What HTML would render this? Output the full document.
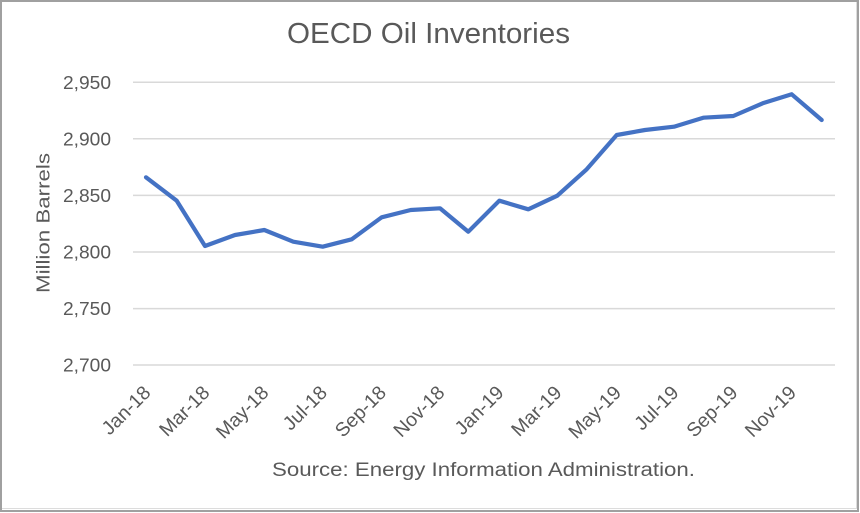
<!DOCTYPE html>
<html>
<head>
<meta charset="utf-8">
<style>
  html, body { margin: 0; padding: 0; background: #ffffff; }
  body { width: 860px; height: 513px; overflow: hidden; }
  svg { display: block; }
  text { font-family: "Liberation Sans", sans-serif; fill: #595959; }
</style>
</head>
<body>
<svg width="860" height="513" viewBox="0 0 860 513" xmlns="http://www.w3.org/2000/svg">
  <rect x="0" y="0" width="860" height="513" fill="#ffffff"/>
  <!-- outer border -->
  <rect x="1" y="1" width="857" height="510" fill="none" stroke="#a0a0a0" stroke-width="2"/>
  <line x1="856.5" y1="2" x2="856.5" y2="509" stroke="#dcdcdc" stroke-width="1"/>
  <line x1="2" y1="508.5" x2="857" y2="508.5" stroke="#dcdcdc" stroke-width="1"/>

  <!-- title -->
  <text x="428.5" y="43" font-size="29" text-anchor="middle" textLength="283" lengthAdjust="spacingAndGlyphs">OECD Oil Inventories</text>

  <!-- gridlines -->
  <g stroke="#d9d9d9" stroke-width="1.5">
    <line x1="133" y1="82.3" x2="835" y2="82.3"/>
    <line x1="133" y1="138.8" x2="835" y2="138.8"/>
    <line x1="133" y1="195.4" x2="835" y2="195.4"/>
    <line x1="133" y1="252" x2="835" y2="252"/>
    <line x1="133" y1="308.6" x2="835" y2="308.6"/>
    <line x1="133" y1="365" x2="835" y2="365"/>
  </g>

  <!-- y tick labels -->
  <g font-size="18" text-anchor="end">
    <text x="111" y="88.8" textLength="48" lengthAdjust="spacingAndGlyphs">2,950</text>
    <text x="111" y="145.3" textLength="48" lengthAdjust="spacingAndGlyphs">2,900</text>
    <text x="111" y="201.9" textLength="48" lengthAdjust="spacingAndGlyphs">2,850</text>
    <text x="111" y="258.5" textLength="48" lengthAdjust="spacingAndGlyphs">2,800</text>
    <text x="111" y="315.1" textLength="48" lengthAdjust="spacingAndGlyphs">2,750</text>
    <text x="111" y="371.5" textLength="48" lengthAdjust="spacingAndGlyphs">2,700</text>
  </g>

  <!-- y axis title -->
  <text x="0" y="0" font-size="18" text-anchor="middle" dy="0.35em" transform="translate(43,223) rotate(-90)" textLength="140" lengthAdjust="spacingAndGlyphs">Million Barrels</text>

  <!-- x tick labels -->
  <g font-size="19.5" text-anchor="end">
    <text x="0" y="0" dy="0.35em" transform="translate(147,389) rotate(-45)">Jan-18</text>
    <text x="0" y="0" dy="0.35em" transform="translate(206,389) rotate(-45)">Mar-18</text>
    <text x="0" y="0" dy="0.35em" transform="translate(265,389) rotate(-45)">May-18</text>
    <text x="0" y="0" dy="0.35em" transform="translate(323.5,389) rotate(-45)">Jul-18</text>
    <text x="0" y="0" dy="0.35em" transform="translate(382.5,389) rotate(-45)">Sep-18</text>
    <text x="0" y="0" dy="0.35em" transform="translate(441,389) rotate(-45)">Nov-18</text>
    <text x="0" y="0" dy="0.35em" transform="translate(500,389) rotate(-45)">Jan-19</text>
    <text x="0" y="0" dy="0.35em" transform="translate(558,389) rotate(-45)">Mar-19</text>
    <text x="0" y="0" dy="0.35em" transform="translate(617.5,389) rotate(-45)">May-19</text>
    <text x="0" y="0" dy="0.35em" transform="translate(675,389) rotate(-45)">Jul-19</text>
    <text x="0" y="0" dy="0.35em" transform="translate(734,389) rotate(-45)">Sep-19</text>
    <text x="0" y="0" dy="0.35em" transform="translate(792.5,389) rotate(-45)">Nov-19</text>
  </g>

  <!-- data line -->
  <polyline fill="none" stroke="#4472c4" stroke-width="4.2" stroke-linejoin="round" stroke-linecap="round"
    points="146,177.3 176.7,200.7 205,246 235,235 264.3,230 293.3,241.7 322.7,246.7 351.7,239.3 381.7,217.3 410.7,210 440,208.3 468.3,231.7 499.3,200.7 528.3,209.3 557.3,195.7 586.7,169.3 616.7,135 645,130 674,126.7 703.3,117.7 733.3,116 762.7,103.3 791.7,94.3 821.7,120"/>

  <!-- source -->
  <text x="483.5" y="476" font-size="19" text-anchor="middle" textLength="423" lengthAdjust="spacingAndGlyphs">Source: Energy Information Administration.</text>
</svg>
</body>
</html>
